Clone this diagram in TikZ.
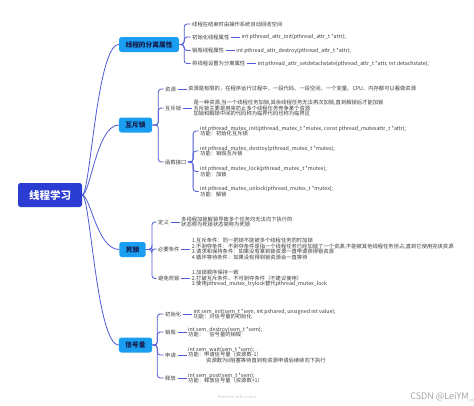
\documentclass[tikz,border=0pt]{standalone}
\usepackage{fontspec}
\setmainfont{Noto Sans CJK SC}
\usetikzlibrary{positioning}

\definecolor{rootblue}{HTML}{2B3CD3}
\definecolor{topicblue}{HTML}{1A9EF2}
\definecolor{topictext}{HTML}{141A48}
\definecolor{linkblue}{HTML}{4E5AD6}
\definecolor{leafgray}{HTML}{3C3C3C}

\newcommand\leaffont{\fontsize{5.3}{5.8}\selectfont}

\begin{document}
\begin{tikzpicture}[
  x=1pt, y=-1pt,
  node distance=9pt,
  root/.style={fill=rootblue, rounded corners=2.5pt, text=white, font=\bfseries\fontsize{10.5}{12}\selectfont, minimum width=64pt, minimum height=24pt},
  topic/.style={fill=topicblue, rounded corners=2.5pt, text=topictext, font=\bfseries\fontsize{6.7}{8}\selectfont, minimum height=15pt, inner xsep=6.5pt},
  sub/.style={font=\leaffont, text=leafgray, inner sep=1.5pt, anchor=west},
  detail/.style={sub, align=left},
  link/.style={draw=linkblue, line width=0.8pt, rounded corners=3pt}
]
\fill[white] (0,0) rectangle (474,405);
\useasboundingbox (0,0) rectangle (474,405);

% root and main topics
\node[root] (root) at (50,195) {线程学习};
\node[topic] (detach) at (149,44.5) {线程的分离属性};
\node[topic] (mutex) at (135.5,125) {互斥锁};
\node[topic] (dead) at (132.5,249.5) {死锁};
\node[topic] (sem) at (135.5,345) {信号量};

\draw[link] (root.east) .. controls +(8,0) and +(-22,0) .. (detach.west);
\draw[link] (root.east) .. controls +(8,0) and +(-22,0) .. (mutex.west);
\draw[link] (root.east) .. controls +(8,0) and +(-22,0) .. (dead.west);
\draw[link] (root.east) .. controls +(8,0) and +(-22,0) .. (sem.west);

% 线程的分离属性
\node[sub] (autofree) at (190.5,24) {线程在结束时由操作系统自动回收空间};
\node[sub] (attrinit) at (190.5,37) {初始化线程属性};
\node[sub] (attrdel) at (190.5,50.5) {销毁线程属性};
\node[sub] (attrset) at (190.5,63.5) {将线程设置为分离属性};
\node[detail, right=of attrinit] (attrinitfn) {int pthread\_attr\_init(pthread\_attr\_t *attr);};
\node[detail, right=of attrdel] (attrdelfn) {int pthread\_attr\_destroy(pthread\_attr\_t *attr);};
\node[detail, right=of attrset] (attrsetfn) {int pthread\_attr\_setdetachstate(pthread\_attr\_t *attr, int detachstate);};

\foreach \n in {autofree,attrinit,attrdel,attrset}
  \draw[link] (detach.east) -- ++(5,0) |- (\n.west);
\draw[link] (attrinit) -- (attrinitfn);
\draw[link] (attrdel) -- (attrdelfn);
\draw[link] (attrset) -- (attrsetfn);

% 互斥锁
\node[sub] (res) at (163.5,89) {资源};
\node[sub] (lock) at (163.5,108) {互斥锁};
\node[sub] (api) at (163.5,162) {函数接口};
\node[detail, right=of res] (resinfo) {资源是有限的，在程序运行过程中，一段代码、一段空间、一个变量、CPU、内存都可以看做资源};
\node[detail, right=of lock] (lockinfo) {是一种资源,当一个线程任务加锁,其余线程任务无法再次加锁,直到解锁后才能加锁\\互斥锁主要是用来防止多个线程任务竞争某个资源\\加锁和解锁中间的代码称为临界代码也称为临界区};
\node[detail] (mtxinit) at (198.5,131) {int pthread\_mutex\_init(pthread\_mutex\_t *mutex, const pthread\_mutexattr\_t *attr);\\功能：初始化互斥锁};
\node[detail] (mtxdel) at (198.5,151) {int pthread\_mutex\_destroy(pthread\_mutex\_t *mutex);\\功能：销毁互斥锁};
\node[detail] (mtxlock) at (198.5,171.5) {int pthread\_mutex\_lock(pthread\_mutex\_t *mutex);\\功能：加锁};
\node[detail] (mtxunlock) at (198.5,191.5) {int pthread\_mutex\_unlock(pthread\_mutex\_t *mutex);\\功能：解锁};

\foreach \n in {res,lock,api}
  \draw[link] (mutex.east) -- ++(6,0) |- (\n.west);
\draw[link] (res) -- (resinfo);
\draw[link] (lock) -- (lockinfo);
\foreach \n in {mtxinit,mtxdel,mtxlock,mtxunlock}
  \draw[link] (api.east) -- ++(5,0) |- (\n.west);

% 死锁
\node[sub] (define) at (156.5,222) {定义};
\node[sub] (need) at (156.5,249) {必要条件};
\node[sub] (avoid) at (156.5,278.5) {避免死锁};
\node[detail, right=of define] (defineinfo) {多线程加锁解锁导致多个任务均无法向下执行的\\状态称为死锁状态简称为死锁};
\node[detail, right=of need] (needinfo) {1.互斥条件：同一把锁不能被多个线程任务同时加锁\\2.不剥夺条件：不剥夺条件是指一个线程任务已经加锁了一个资源,不能被其他线程任务抢占,直到它使用完该资源\\3.请求和保持条件：如果没有拿到锁资源一直申请获得锁资源\\4.循环等待条件：如果没有得到锁资源会一直等待};
\node[detail, right=of avoid] (avoidinfo) {1.加锁顺序保持一致\\2.打破互斥条件、不可剥夺条件（不建议使用）\\3.使用pthread\_mutex\_trylock替代pthread\_mutex\_lock};

\foreach \n in {define,need,avoid}
  \draw[link] (dead.east) -- ++(6,0) |- (\n.west);
\draw[link] (define) -- (defineinfo);
\draw[link] (need) -- (needinfo);
\draw[link] (avoid) -- (avoidinfo);

% 信号量
\node[sub] (seminit) at (163.5,314) {初始化};
\node[sub] (semdel) at (163.5,332) {销毁};
\node[sub] (semwait) at (163.5,355) {申请};
\node[sub] (sempost) at (163.5,378) {释放};
\node[detail, right=of seminit] (seminitfn) {int sem\_init(sem\_t *sem, int pshared, unsigned int value);\\功能：对信号量的初始化};
\node[detail, right=of semdel] (semdelfn) {int sem\_destroy(sem\_t *sem);\\功能：\quad 信号量的销毁};
\node[detail, right=of semwait] (semwaitfn) {int sem\_wait(sem\_t *sem);\\功能：申请信号量（资源数-1）\\\hspace*{18pt}资源数为0阻塞等待直到有资源申请后继续向下执行};
\node[detail, right=of sempost] (sempostfn) {int sem\_post(sem\_t *sem);\\功能：释放信号量（资源数+1）};

\foreach \n in {seminit,semdel,semwait,sempost}
  \draw[link] (sem.east) -- ++(5,0) |- (\n.west);
\draw[link] (seminit) -- (seminitfn);
\draw[link] (semdel) -- (semdelfn);
\draw[link] (semwait) -- (semwaitfn);
\draw[link] (sempost) -- (sempostfn);

% marks at the bottom
\node[font=\fontsize{4}{5}\selectfont, text=black!20] (powered) at (237,397) {Powered with xmind};
\node[font=\fontsize{9}{10}\selectfont, text=black!35, anchor=east, inner sep=0pt] (csdn) at (474,397) {CSDN @LeiYM\_};
\end{tikzpicture}
\end{document}
